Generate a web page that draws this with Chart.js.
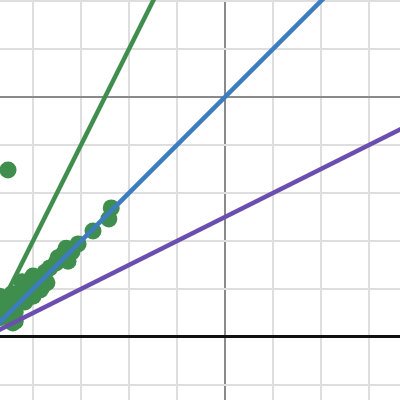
<!DOCTYPE html>
<html>
<head>
<meta charset="utf-8">
<script src="https://cdn.jsdelivr.net/npm/chart.js@4"></script>
<style>
html,body{margin:0;padding:0;background:#fff;overflow:hidden;}
#wrap{width:400px;height:400px;}
</style>
</head>
<body>
<div id="wrap"><canvas id="c" width="400" height="400"></canvas></div>
<script>
// Scatter observations
const pointX = [0.48, 2.63, 2.58, 2.25, 1.94, 1.69, 1.63, 1.73, 1.48, 1.35, 1.25, 1.15, 1.00, 1.19, 0.94, 0.81, 0.71, 0.58, 0.48, 0.38, 0.48, 0.63, 0.31, 0.40, 0.56,
                1.15, 1.00, 0.83, 0.31, 0.42, 0.63, 1.29, 0.77, 0.58, 1.52, 1.81];
const pointY = [3.48, 2.69, 2.46, 2.21, 1.94, 1.85, 1.73, 1.58, 1.54, 1.44, 1.35, 1.25, 1.27, 1.04, 1.06, 0.94, 0.85, 0.77, 0.69, 0.58, 0.48, 0.33, 0.40, 0.75, 0.90,
                0.98, 0.85, 0.73, 0.85, 0.77, 0.52, 1.13, 1.15, 0.29, 1.65, 1.77];
// Lines through origin y = m*x
const lineNames = ["y = 2x", "y = x", "y = 0.5x"];
const lineSlopes = [2, 1, 0.5];
const lineColors = ["#3f8e4d", "#3b7dbf", "#6a4fae"];
// Axis ranges and tick (grid) values
const xRange = [0.3125, 8.6458];
const yRange = [-1.3125, 7.0208];
const xTicks = [1, 2, 3, 4, 5, 6, 7, 8];
const yTicks = [-1, 0, 1, 2, 3, 4, 5, 6, 7];

const lineSets = lineSlopes.map((m, i) => ({
  type: 'line',
  label: lineNames[i],
  data: [0, 10].map(x => ({x: x, y: m * x})),
  borderColor: lineColors[i],
  borderWidth: 4.5,
  pointRadius: 0,
  fill: false,
  order: i
}));

const scatterSet = {
  type: 'scatter',
  label: 'data',
  data: pointX.map((x, i) => ({x: x, y: pointY[i]})),
  backgroundColor: '#3f8e4d',
  borderWidth: 0,
  pointRadius: 8.5,
  pointHoverRadius: 8.5,
  order: 10
};

function gridColor(ctx) {
  const v = ctx.tick ? ctx.tick.value : null;
  if (v === 0) return '#111111';
  if (v % 5 === 0) return '#8a8a8a';
  return '#dedede';
}
function gridWidth(ctx) {
  const v = ctx.tick ? ctx.tick.value : null;
  if (v === 0) return 3;
  return 2;
}

new Chart(document.getElementById('c'), {
  data: { datasets: [...lineSets, scatterSet] },
  options: {
    responsive: false,
    animation: false,
    devicePixelRatio: 1,
    layout: { padding: 0, autoPadding: false },
    plugins: { legend: { display: false }, tooltip: { enabled: false } },
    scales: {
      x: {
        type: 'linear', min: xRange[0], max: xRange[1],
        afterBuildTicks: s => { s.ticks = xTicks.map(v => ({value: v})); },
        ticks: { display: false },
        border: { display: false },
        grid: { drawTicks: false, color: gridColor, lineWidth: gridWidth }
      },
      y: {
        type: 'linear', min: yRange[0], max: yRange[1],
        afterBuildTicks: s => { s.ticks = yTicks.map(v => ({value: v})); },
        ticks: { display: false },
        border: { display: false },
        grid: { drawTicks: false, color: gridColor, lineWidth: gridWidth }
      }
    }
  }
});
</script>
</body>
</html>
